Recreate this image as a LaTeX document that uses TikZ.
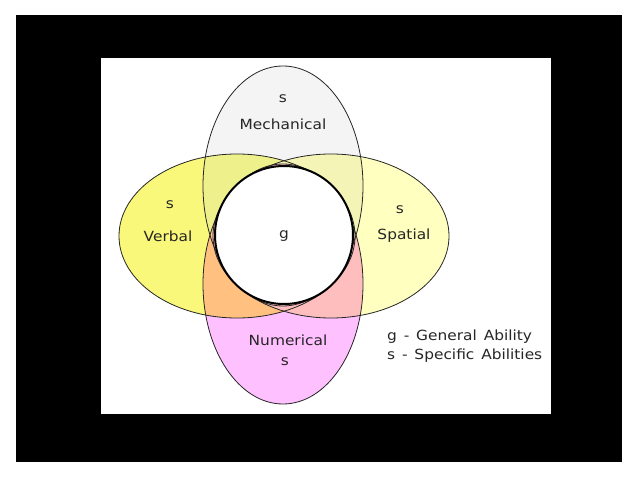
\documentclass[tikz,border=0pt]{standalone}
\usepackage{fontspec}
\newfontfamily\labelfont{DejaVu Sans}[FakeStretch=1.1,WordSpace=1.4]
\usepackage{tikz}
\usetikzlibrary{positioning}
\definecolor{mechfill}{RGB}{244,244,244}
\definecolor{verbfill}{RGB}{250,248,122}
\definecolor{spatfill}{RGB}{255,255,192}
\definecolor{numfill}{RGB}{255,192,255}
\definecolor{vmfill}{RGB}{238,240,140}
\definecolor{smfill}{RGB}{244,244,182}
\definecolor{vnfill}{RGB}{255,192,128}
\definecolor{snfill}{RGB}{255,190,190}
\newcommand\mechpath{(283,186) ellipse [x radius=80pt, y radius=120pt]}
\newcommand\numpath{(283,284) ellipse [x radius=80pt, y radius=120pt]}
\newcommand\verbpath{(237,236) ellipse [x radius=118pt, y radius=82pt]}
\newcommand\spatpath{(331,236) ellipse [x radius=118pt, y radius=82pt]}
\begin{document}
\begin{tikzpicture}[x=1pt,y=-1pt,
  lbl/.style={font=\labelfont\fontsize{14}{16}\selectfont,text=black!85,inner sep=0pt},
  rim/.style={draw=black!85,line width=0.8pt}]
  \useasboundingbox (0,0) rectangle (638,478);
  % frame
  \fill[white] (0,0) rectangle (638,478);
  \fill[black] (16,15) rectangle (622,462);
  \fill[white] (101,58) rectangle (551,414);
  % ellipses
  \fill[mechfill] \mechpath;
  \fill[numfill] \numpath;
  \fill[verbfill] \verbpath;
  \fill[spatfill] \spatpath;
  \begin{scope}
    \clip \mechpath;
    \fill[vmfill] \verbpath;
    \fill[smfill] \spatpath;
  \end{scope}
  \begin{scope}
    \clip \numpath;
    \fill[vnfill] \verbpath;
    \fill[snfill] \spatpath;
  \end{scope}
  \foreach \p in {\mechpath,\numpath,\verbpath,\spatpath}
    \draw[rim] \p;
  % general ability
  \draw[fill=white,line width=2pt] (284,235) circle [radius=69pt];
  % labels
  \node[lbl] (mechs) at (283,99) {s};
  \node[lbl] (mechname) at (283,124) {Mechanical};
  \node[lbl] (verbs) at (170,205) {s};
  \node[lbl] (verbname) at (168,236) {Verbal};
  \node[lbl] (spats) at (400,210) {s};
  \node[lbl] (spatname) at (404,236) {Spatial};
  \node[lbl] (numname) at (288,340) {Numerical};
  \node[lbl] (nums) at (285,362) {s};
  \node[lbl] (gen) at (284,236) {g};
  \node[lbl,anchor=west] (keyg) at (387,337) {g - General Ability};
  \node[lbl,anchor=west] (keys) at (387,356) {s - Specific Abilities};
\end{tikzpicture}
\end{document}
